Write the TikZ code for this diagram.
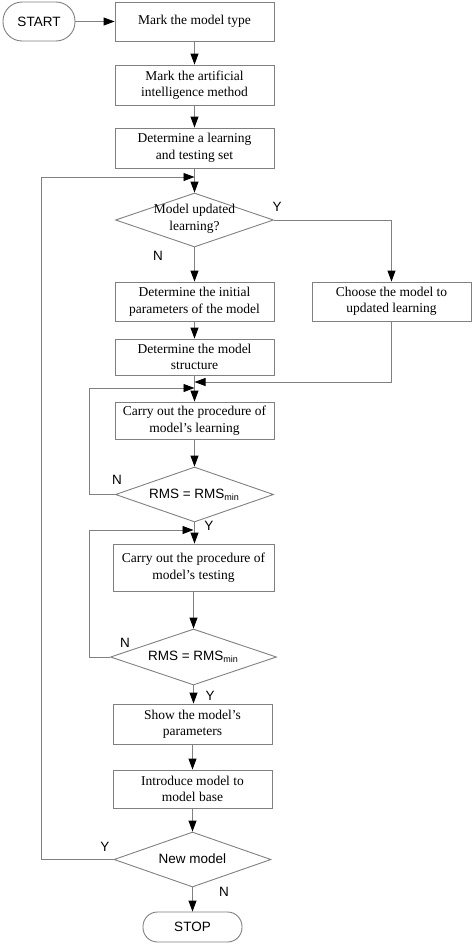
\documentclass[tikz,border=0pt]{standalone}
\usepackage{fontspec}
\setmainfont{Liberation Serif}
\setsansfont{Liberation Sans}
\usetikzlibrary{shapes.geometric,arrows.meta}
\definecolor{lc}{gray}{0.5}
\begin{document}
\begin{tikzpicture}[x=1pt,y=-1pt,
 box/.style={draw=lc, line width=0.9pt, minimum width=159pt, inner sep=0pt, align=center, font=\fontsize{13.5}{16.5}\selectfont},
 term/.style={draw=lc, line width=0.9pt, inner sep=0pt, font=\sffamily\fontsize{13.5}{16}\selectfont},
 dia/.style={draw=lc, line width=0.9pt, shape=diamond, inner sep=0pt},
 dtext/.style={align=center, inner sep=0pt},
 lab/.style={font=\sffamily\fontsize{13.5}{16}\selectfont, inner sep=0pt},
 con/.style={draw=lc, line width=0.9pt},
 arr/.style={con, -{Triangle[length=11pt,width=8pt,color=black]}},
]
\useasboundingbox (0,0) rectangle (474,945);
\newcommand{\rmsmin}{\sffamily\fontsize{13.5}{16}\selectfont RMS = RMS\raisebox{-0.3ex}{\fontsize{9}{9}\selectfont min}}
% terminals
\node[term, rounded corners=19pt, minimum width=72pt, minimum height=39pt] (start) at (39,21.5) {START};
\node[term, rounded corners=14.5pt, minimum width=99pt, minimum height=30pt] (stop) at (192.5,927) {STOP};
% boxes
\node[box, minimum height=39pt] (b1) at (194.5,21.5) {Mark the model type};
\node[box, minimum height=40pt] (b2) at (194.5,85) {Mark the artificial\\intelligence method};
\node[box, minimum height=40pt] (b3) at (194.5,148) {Determine a learning\\and testing set};
\node[box, minimum height=39pt] (b4) at (194.5,301.5) {Determine the initial\\parameters of the model};
\node[box, minimum height=39pt] (b5) at (391.5,301.5) {Choose the model to\\updated learning};
\node[box, minimum height=36pt] (b6) at (194.5,357) {Determine the model\\structure};
\node[box, minimum height=37pt] (b7) at (194.5,420.5) {Carry out the procedure of\\model’s learning};
\node[box, minimum height=47pt, minimum width=161pt] (b8) at (193.5,567.5) {Carry out the procedure of\\model’s testing};
\node[box, minimum height=40pt] (b9) at (192.5,724) {Show the model’s\\parameters};
\node[box, minimum height=38pt] (b10) at (192.5,789) {Introduce model to\\model base};
% diamonds
\node[dia, minimum width=158pt, minimum height=54pt] (d1) at (194.5,220) {};
\node[dtext, font=\fontsize{13.5}{16.5}\selectfont] (t1) at (194.5,219) {Model updated\\learning?};
\node[dia, minimum width=158pt, minimum height=55pt] (d2) at (194.5,494.5) {};
\node[dtext] (t2) at (194,494.5) {\rmsmin};
\node[dia, minimum width=166pt, minimum height=56pt] (d3) at (193.5,657) {};
\node[dtext] (t3) at (193,657) {\rmsmin};
\node[dia, minimum width=157pt, minimum height=55pt] (d4) at (192.5,859.5) {};
\node[dtext, font=\sffamily\fontsize{13.5}{16}\selectfont] (t4) at (192.5,859) {New model};
% labels
\node[lab] (y1) at (277,207) {Y};
\node[lab] (n1) at (158,256) {N};
\node[lab] (n2) at (117,480) {N};
\node[lab] (y2) at (209,526) {Y};
\node[lab] (n3) at (125,643) {N};
\node[lab] (y3) at (210,696) {Y};
\node[lab] (y4) at (105,847) {Y};
\node[lab] (n4) at (224,892) {N};
% junction coordinates
\coordinate (j1) at (194.5,177);
\coordinate (lx1) at (41,177);
\coordinate (j2) at (194.5,382);
\coordinate (j3) at (194.5,388);
\coordinate (lx3) at (89,388);
\coordinate (j4) at (193.5,530);
\coordinate (lx4) at (89,530);
% connectors
\draw[arr] (start) -- (b1);
\draw[arr] (b1) -- (b2);
\draw[arr] (b2) -- (b3);
\draw[arr] (b3) -- (d1.north);
\draw[arr] (d1.south) -- (b4);
\draw[arr] (d1.east) -| (b5.north);
\draw[arr] (b4) -- (b6);
\draw[arr] (b6) -- (b7);
\draw[arr] (b5.south) |- (j2);
\draw[arr] (d2.west) -| (lx3) -- (j3);
\draw[arr] (b7) -- (d2.north);
\draw[arr] (d2.south) -- (d2.south |- b8.north);
\draw[arr] (d3.west) -| (lx4) -- (j4);
\draw[arr] (b8) -- (d3.north);
\draw[arr] (d3.south) -- (d3.south |- b9.north);
\draw[arr] (b9) -- (b10);
\draw[arr] (b10) -- (d4.north);
\draw[arr] (d4.south) -- (stop);
\draw[arr] (d4.west) -| (lx1) -- (j1);
\end{tikzpicture}
\end{document}
